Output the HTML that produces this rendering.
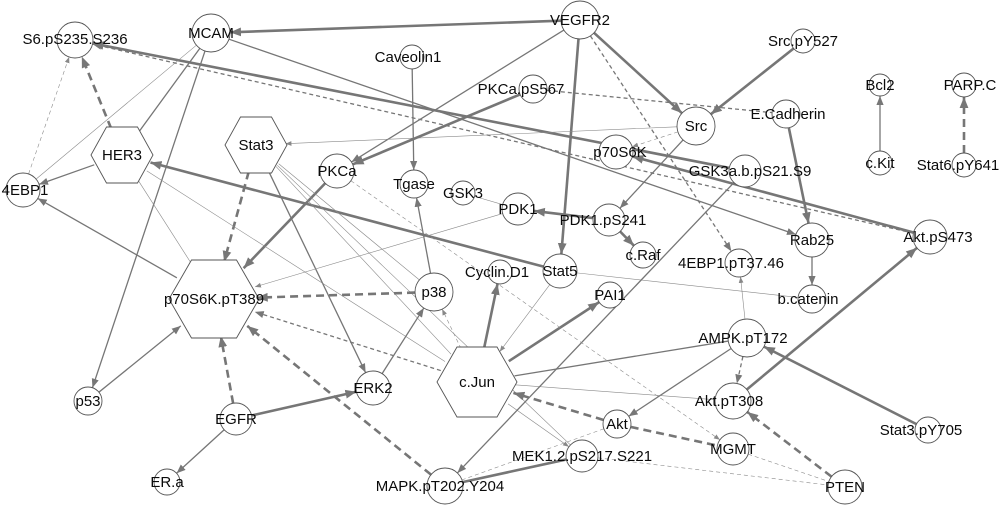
<!DOCTYPE html>
<html><head><meta charset="utf-8"><style>
html,body{margin:0;padding:0;background:#fff;}
svg{display:block;}
text{font-family:"Liberation Sans",Arial,sans-serif;font-size:15px;fill:#0a0a0a;}
</style></head><body>
<svg id="s" width="1000" height="505" viewBox="0 0 1000 505" xmlns="http://www.w3.org/2000/svg">
<defs>
<marker id="a1" viewBox="0 0 10 10" refX="10" refY="5" markerWidth="9" markerHeight="9" markerUnits="userSpaceOnUse" orient="auto"><path d="M0,1 L10,5 L0,9 z" fill="#777"/></marker>
<marker id="a2" viewBox="0 0 10 10" refX="10" refY="5" markerWidth="11" markerHeight="11" markerUnits="userSpaceOnUse" orient="auto"><path d="M0,1 L10,5 L0,9 z" fill="#777"/></marker>
<marker id="a0" viewBox="0 0 10 10" refX="10" refY="5" markerWidth="6" markerHeight="6" markerUnits="userSpaceOnUse" orient="auto"><path d="M0,1 L10,5 L0,9 z" fill="#888"/></marker>
</defs>
<g id="E"></g><g id="N"></g><g id="T"></g>
</svg>
<script>
var N={
MCAM:[211,33,19,'c',0,5],
S6:[75,40,18,'c',0,4,'S6.pS235.S236'],
VEGFR2:[580,20,19,'c',0,5],
Caveolin1:[412,57,12,'c',-4,5],
PKCaS:[533,89,14,'c',-12,5,'PKCa.pS567'],
SrcY:[803,41,12,'c',0,5,'Src.pY527'],
Bcl2:[880,85,11,'c',0,5],
PARP:[964,85,12,'c',6,5,'PARP.C'],
Src:[696,126,19,'c',0,5],
ECad:[786,114,14,'c',2,5,'E.Cadherin'],
p70S6K:[616,152,17,'c',4,5],
GSK3ab:[745,171,16,'c',5,5,'GSK3a.b.pS21.S9'],
cKit:[880,163,12,'c',0,5,'c.Kit'],
Stat6:[964,165,12,'c',-6,5,'Stat6.pY641'],
E4BP1:[23,190,17,'c',2,5,'4EBP1'],
PKCa:[337,171,17,'c',0,5],
Tgase:[414,184,14,'c',0,5],
GSK3:[463,193,12,'c',0,5],
PDK1:[518,209,16,'c',0,5],
PDK1S:[609,220,16,'c',-6,5,'PDK1.pS241'],
cRaf:[643,255,13,'c',0,5,'c.Raf'],
Rab25:[812,240,17,'c',0,5],
AktS:[930,237,17,'c',8,5,'Akt.pS473'],
Stat5:[560,271,17,'c',0,5],
CycD1:[500,272,12,'c',-3,5,'Cyclin.D1'],
E4BPT:[739,263,14,'c',-8,5,'4EBP1.pT37.46'],
bcat:[812,299,14,'c',-4,5,'b.catenin'],
p38:[434,292,19,'c',0,5],
PAI1:[610,295,13,'c',0,5],
AMPK:[747,338,19,'c',-4,5,'AMPK.pT172'],
p53:[88,401,14,'c',0,5],
ERK2:[373,388,17,'c',0,5],
EGFR:[236,419,16,'c',0,5],
AktT:[733,401,18,'c',-4,5,'Akt.pT308'],
Akt:[617,424,14,'c',0,5],
Stat3Y:[928,430,13,'c',-7,5,'Stat3.pY705'],
MGMT:[733,449,16,'c',0,5],
MEK:[582,456,16,'c',0,5,'MEK1.2.pS217.S221'],
ERa:[167,482,13,'c',0,5,'ER.a'],
MAPK:[445,486,18,'c',-5,5,'MAPK.pT202.Y204'],
PTEN:[845,487,17,'c',0,5],
HER3:[122,155,31,'h',0,5,null,28],
Stat3:[256,145,31,'h',0,5,null,28],
p70T:[214,299,45,'h',0,5,'p70S6K.pT389',39],
cJun:[477,382,40,'h',0,5,'c.Jun',35]
};
var E=[
['VEGFR2','MCAM',2,0,1],['VEGFR2','PKCa',1,0,1],['VEGFR2','Src',2,0,1],['VEGFR2','Stat5',2,0,1],['VEGFR2','E4BPT',1,1,1],
['GSK3ab','S6',2,0,1],['AktS','S6',1,1,1],['AktS','p70S6K',2,0,1],['HER3','S6',2,1,1],['E4BP1','S6',0,1,1],
['HER3','E4BP1',1,0,1],['MCAM','E4BP1',0,0,0],['MCAM','HER3',1,0,0],['MCAM','p53',1,0,1],['MCAM','Rab25',1,0,1],
['Src','Stat3',0,0,1],['Src','p70S6K',0,1,1],['Src','PDK1S',1,0,1],['SrcY','Src',2,0,1],['PKCaS','PKCa',2,0,1],
['PKCaS','ECad',1,1,0],['ECad','Rab25',2,0,1],['cKit','Bcl2',1,0,1],['Stat6','PARP',2,1,1],['Caveolin1','Tgase',1,0,1],
['p38','Tgase',1,0,1],['Stat5','HER3',2,0,1],['PKCa','p70T',2,0,1],['Stat3','p70T',2,1,1],['Stat3','ERK2',1,0,1],
['Stat3','p38',0,0,0],['Stat3','cJun',0,0,0],['Stat3','MEK',0,0,0],['HER3','p70T',0,0,0],['HER3','cJun',0,0,0],
['p70T','E4BP1',1,0,1],['p53','p70T',1,0,1],['EGFR','p70T',2,1,1],['EGFR','ERK2',2,0,1],['EGFR','ERa',1,0,1],
['ERK2','p38',1,0,1],['p38','p70T',2,1,1],['cJun','p70T',1,1,1],['MAPK','p70T',2,1,1],['PDK1','p70T',0,0,1],
['PDK1S','PDK1',2,0,1],['PDK1S','cRaf',2,0,1],['GSK3','PDK1',0,0,0],['cJun','CycD1',2,0,1],['Stat5','cJun',0,0,1],
['cJun','PAI1',2,0,1],['cJun','p38',0,1,1],['Stat5','bcat',0,0,0],['Rab25','bcat',1,0,1],['AMPK','E4BPT',0,0,1],
['AMPK','cJun',1,0,0],['AMPK','Akt',1,0,1],['AMPK','AktT',1,1,1],['Stat3Y','AMPK',2,0,1],['AktT','AktS',2,0,1],
['cJun','AktT',0,0,0],['Akt','cJun',2,1,1],['Akt','MGMT',2,1,0],['PTEN','AktT',2,1,1],['MGMT','PTEN',0,1,0],
['MEK','PTEN',0,1,0],['Akt','MAPK',0,1,0],['cJun','MEK',0,0,1],['GSK3ab','MAPK',1,0,1],['MEK','MAPK',2,0,0],
['PKCa','MGMT',0,1,1]
];
var ns='http://www.w3.org/2000/svg';
function el(t,a,p){var e=document.createElementNS(ns,t);for(var k in a)e.setAttribute(k,a[k]);p.appendChild(e);return e;}
var gE=document.getElementById('E'),gN=document.getElementById('N'),gT=document.getElementById('T');
function rad(n,dx,dy){ if(n[3]=='c')return n[2]; var w=n[2],h=n[7]; var ang=Math.atan2(Math.abs(dy),Math.abs(dx)); return Math.min(w, h/Math.max(Math.sin(ang),0.01))*0.95;}
E.forEach(function(e){var a=N[e[0]],b=N[e[1]];var dx=b[0]-a[0],dy=b[1]-a[1],L=Math.sqrt(dx*dx+dy*dy);var ux=dx/L,uy=dy/L;
var ra=rad(a,dx,dy),rb=rad(b,dx,dy);
var W=[0.6,1.3,2.6][e[2]];
var at={x1:a[0]+ux*ra,y1:a[1]+uy*ra,x2:b[0]-ux*rb,y2:b[1]-uy*rb,stroke:e[2]==0?'#8a8a8a':'#767676','stroke-width':W};
if(e[3])at['stroke-dasharray']=e[2]==2?'8,5':'4,3';
if(e[4])at['marker-end']='url(#a'+e[2]+')';
el('line',at,gE);});
for(var k in N){var n=N[k];
if(n[3]=='c')el('circle',{cx:n[0],cy:n[1],r:n[2],fill:'#fff',stroke:'#555','stroke-width':0.9},gN);
else{var w=n[2],h=n[7],x=n[0],y=n[1],q=w/2;
el('polygon',{points:[x-w,y,x-q,y-h,x+q,y-h,x+w,y,x+q,y+h,x-q,y+h].join(' '),fill:'#fff',stroke:'#555','stroke-width':0.9},gN);}
var t=el('text',{x:n[0]+n[4],y:n[1]+n[5],'text-anchor':'middle'},gT);t.textContent=n[6]||k;}
</script>
</body></html>
